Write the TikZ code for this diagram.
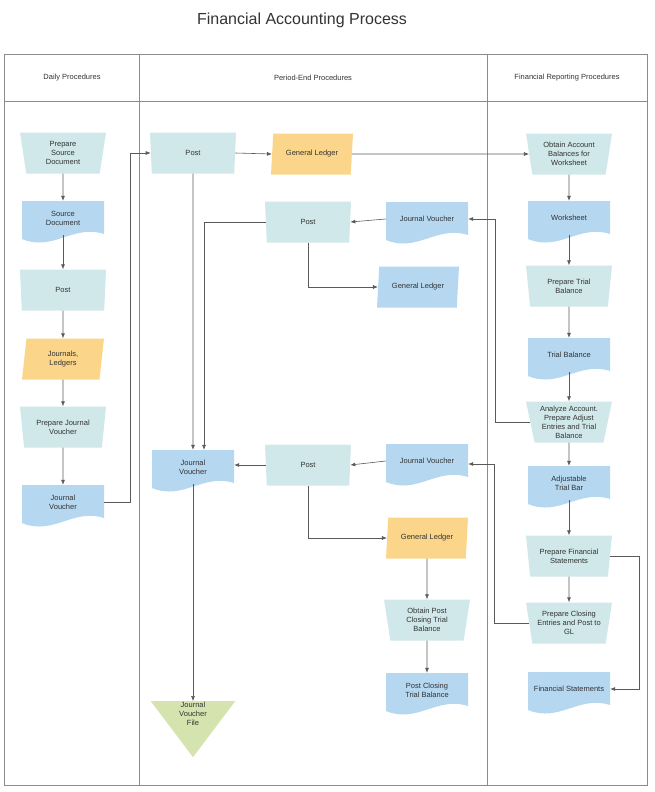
\documentclass[tikz,border=0pt]{standalone}
\usepackage{fontspec}
\setmainfont{Liberation Sans}
\usetikzlibrary{shapes.geometric,arrows.meta}
\definecolor{opblue}{HTML}{D0E8E9}
\definecolor{docblue}{HTML}{B5D7F0}
\definecolor{ledger}{HTML}{FBD58A}
\definecolor{filegreen}{HTML}{D5E3AF}
\definecolor{edge}{HTML}{5A5A5A}
\tikzset{
  every node/.style={font=\fontsize{7.5}{9}\selectfont, align=center, text=black!80},
  op/.style={trapezium, shape border rotate=180, trapezium stretches body, trapezium angle=76,
    fill=opblue, minimum width=86pt, minimum height=41pt, inner sep=1pt},
  gl/.style={trapezium, trapezium left angle=76, trapezium right angle=104, trapezium stretches body,
    fill=#1, minimum width=82pt, minimum height=41pt, inner sep=1pt},
  doc/.style={rectangle, minimum width=82pt, minimum height=34pt, inner sep=0pt},
  flow/.style={draw=edge, line width=0.6pt, -{Latex[length=5pt,width=4pt]}},
  lane/.style={draw=black!45, line width=0.6pt}
}
% document shape: name, x, y, text
\newcommand{\docnode}[4]{
  \fill[docblue] (#2-41,#3-21) -- (#2+41,#3-21) -- (#2+41,#3+12)
    .. controls (#2+10,#3+2) and (#2-10,#3+30) .. (#2-41,#3+17) -- cycle;
  \node[doc] (#1) at (#2,#3-4) {#4};
}
\begin{document}
\begin{tikzpicture}[x=1pt,y=-1pt]
\useasboundingbox (0,0) rectangle (654,792);
% lanes
\node[font=\fontsize{16}{18}\selectfont] (title) at (302,20) {Financial Accounting Process};
\draw[lane] (4,54) rectangle (647,785);
\draw[lane] (4,101) -- (647,101);
\draw[lane] (139,54) -- (139,785);
\draw[lane] (487,54) -- (487,785);
\node (hdaily) at (72,78) {Daily Procedures};
\node (hperiod) at (313,78) {Period-End Procedures};
\node (hreport) at (567,78) {Financial Reporting Procedures};

% daily procedures
\node[op] (prepsrc) at (63,153) {Prepare\\Source\\Document};
\docnode{srcdoc}{63}{222}{Source\\Document}
\node[op] (postd) at (63,290) {Post};
\node[gl=ledger] (journals) at (63,359) {Journals,\\Ledgers};
\node[op] (prepjv) at (63,427) {Prepare Journal\\Voucher};
\docnode{jvd}{63}{506}{Journal\\Voucher}

% period-end procedures
\node[op] (post1) at (193,153) {Post};
\node[gl=ledger] (gl1) at (312,154) {General Ledger};
\node[op] (post2) at (308,222) {Post};
\docnode{jv2}{427}{223}{Journal Voucher}
\node[gl=docblue] (gl2) at (418,287) {General Ledger};
\docnode{jvm}{193}{471}{Journal\\Voucher}
\node[op] (post3) at (308,465) {Post};
\docnode{jv3}{427}{465}{Journal Voucher}
\node[gl=ledger] (gl3) at (427,538) {General Ledger};
\node[op] (obtpost) at (427,620) {Obtain Post\\Closing Trial\\Balance};
\docnode{pctb}{427}{694}{Post Closing\\Trial Balance}
\node[isosceles triangle, isosceles triangle apex angle=74, shape border rotate=-90, fill=filegreen,
  minimum height=56pt, inner sep=0pt, anchor=north] (jvfile) at (193,701) {};
\node (jvfiletext) at (193,714) {Journal\\Voucher\\File};

% financial reporting procedures
\node[op] (obtbal) at (569,154) {Obtain Account\\Balances for\\Worksheet};
\docnode{ws}{569}{222}{Worksheet}
\node[op] (preptb) at (569,286) {Prepare Trial\\Balance};
\docnode{tb}{569}{359}{Trial Balance}
\node[op] (analyze) at (569,422) {Analyze Account.\\Prepare Adjust\\Entries and Trial\\Balance};
\docnode{atb}{569}{487}{Adjustable\\Trial Bar}
\node[op] (prepfs) at (569,556) {Prepare Financial\\Statements};
\node[op] (prepcl) at (569,623) {Prepare Closing\\Entries and Post to\\GL};
\docnode{fs}{569}{693}{Financial Statements}

% connectors
\draw[flow] (prepsrc) -- (srcdoc);
\draw[flow] (srcdoc) -- (postd);
\draw[flow] (postd) -- (journals);
\draw[flow] (journals) -- (prepjv);
\draw[flow] (prepjv) -- (jvd);
\draw[flow] (jvd.east) -- ++(26,0) |- (post1.west);
\draw[flow] (post1.east) -- (gl1.west);
\draw[flow] (gl1.east) -- (obtbal.west);
\draw[flow] (post1.south) -- (jvm.north);
\draw[flow] (jv2.west) -- (post2.east);
\draw[flow] (post2.west) -| ([xshift=11pt]jvm.north);
\draw[flow] (post2.south) |- (gl2.west);
\draw[flow] (analyze.west) -- ++(-35,0) |- (jv2.east);
\draw[flow] (jv3.west) -- (post3.east);
\draw[flow] (post3.west) -- (jvm.east |- post3.west);
\draw[flow] (post3.south) |- (gl3.west);
\draw[flow] (gl3) -- (obtpost);
\draw[flow] (obtpost) -- (pctb);
\draw[flow] (prepcl.west) -- ++(-35,0) |- ([yshift=-3pt]jv3.east);
\draw[flow] (prepfs.east) -- ++(29,0) |- (fs.east);
\draw[flow] (jvm.south) -- (jvfile.north);
\draw[flow] (obtbal) -- (ws);
\draw[flow] (ws) -- (preptb);
\draw[flow] (preptb) -- (tb);
\draw[flow] (tb) -- (analyze);
\draw[flow] (analyze) -- (atb);
\draw[flow] (atb) -- (prepfs);
\draw[flow] (prepfs) -- (prepcl);
\end{tikzpicture}
\end{document}
